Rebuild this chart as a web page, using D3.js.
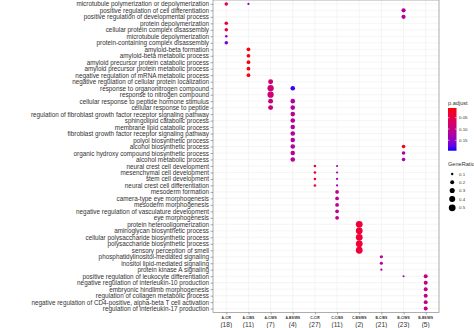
<!DOCTYPE html>
<html>
<head>
<meta charset="utf-8">
<script src="https://cdn.jsdelivr.net/npm/d3@7"></script>
<style>
  body { margin: 0; background: #fff; }
  svg { display: block; font-family: "Liberation Sans", Arial, sans-serif; }
</style>
</head>
<body>
<div id="chart"></div>
<script>
// Cluster codes on the x axis and the number of genes in each.
var clusters = ["A-C/R", "A-C/BS", "A-C/WS", "A-BS/WS", "C-C/R", "C-C/BS", "C-BS/WS", "B-C/BS", "B-C/WS", "B-BS/WS"];
var clusterSizes = [18, 11, 7, 4, 27, 11, 2, 21, 23, 5];

// GO terms on the y axis, top to bottom.
var terms = [
  "microtubule polymerization or depolymerization",
  "positive regulation of cell differentiation",
  "positive regulation of developmental process",
  "protein depolymerization",
  "cellular protein complex disassembly",
  "microtubule depolymerization",
  "protein-containing complex disassembly",
  "amyloid-beta formation",
  "amyloid-beta metabolic process",
  "amyloid precursor protein catabolic process",
  "amyloid precursor protein metabolic process",
  "negative regulation of mRNA metabolic process",
  "negative regulation of cellular protein localization",
  "response to organonitrogen compound",
  "response to nitrogen compound",
  "cellular response to peptide hormone stimulus",
  "cellular response to peptide",
  "regulation of fibroblast growth factor receptor signaling pathway",
  "sphingolipid catabolic process",
  "membrane lipid catabolic process",
  "fibroblast growth factor receptor signaling pathway",
  "polyol biosynthetic process",
  "alcohol biosynthetic process",
  "organic hydroxy compound biosynthetic process",
  "alcohol metabolic process",
  "neural crest cell development",
  "mesenchymal cell development",
  "stem cell development",
  "neural crest cell differentiation",
  "mesoderm formation",
  "camera-type eye morphogenesis",
  "mesoderm morphogenesis",
  "negative regulation of vasculature development",
  "eye morphogenesis",
  "protein heterooligomerization",
  "aminoglycan biosynthetic process",
  "cellular polysaccharide biosynthetic process",
  "polysaccharide biosynthetic process",
  "sensory perception of smell",
  "phosphatidylinositol-mediated signaling",
  "inositol lipid-mediated signaling",
  "protein kinase A signaling",
  "positive regulation of leukocyte differentiation",
  "negative regulation of interleukin-10 production",
  "embryonic hindlimb morphogenesis",
  "regulation of collagen metabolic process",
  "negative regulation of CD4-positive, alpha-beta T cell activation",
  "regulation of interleukin-17 production"
];

// Enriched terms: [cluster index, term number (1-based), GeneRatio, p.adjust]
var dots = [
  [0, 1, 0.167, 0.045], [0, 4, 0.167, 0.045], [0, 5, 0.167, 0.045], [0, 6, 0.111, 0.14], [0, 7, 0.167, 0.165],
  [1, 1, 0.091, 0.165], [1, 8, 0.182, 0.012], [1, 9, 0.182, 0.012], [1, 10, 0.182, 0.012], [1, 11, 0.182, 0.012], [1, 12, 0.182, 0.012],
  [2, 13, 0.286, 0.085], [2, 14, 0.429, 0.085], [2, 15, 0.429, 0.085], [2, 16, 0.286, 0.09], [2, 17, 0.286, 0.09],
  [3, 14, 0.25, 0.19], [3, 16, 0.25, 0.115], [3, 17, 0.25, 0.115], [3, 18, 0.25, 0.115], [3, 19, 0.25, 0.115], [3, 20, 0.25, 0.115],
  [3, 21, 0.25, 0.115], [3, 22, 0.25, 0.115], [3, 23, 0.25, 0.115], [3, 24, 0.25, 0.115], [3, 25, 0.25, 0.115],
  [4, 26, 0.111, 0.04], [4, 27, 0.111, 0.04], [4, 28, 0.111, 0.04], [4, 29, 0.111, 0.04],
  [5, 26, 0.091, 0.13], [5, 27, 0.091, 0.13], [5, 28, 0.091, 0.13], [5, 29, 0.091, 0.13],
  [5, 30, 0.182, 0.105], [5, 31, 0.182, 0.105], [5, 32, 0.182, 0.105], [5, 33, 0.182, 0.105], [5, 34, 0.182, 0.105],
  [6, 35, 0.5, 0.035], [6, 36, 0.5, 0.035], [6, 37, 0.5, 0.035], [6, 38, 0.5, 0.035], [6, 39, 0.5, 0.035],
  [7, 40, 0.143, 0.115], [7, 41, 0.143, 0.115], [7, 42, 0.095, 0.12],
  [8, 2, 0.217, 0.12], [8, 3, 0.217, 0.12], [8, 23, 0.174, 0.02], [8, 24, 0.174, 0.12], [8, 25, 0.174, 0.12], [8, 43, 0.087, 0.13],
  [9, 43, 0.2, 0.1], [9, 44, 0.2, 0.1], [9, 45, 0.2, 0.1], [9, 46, 0.2, 0.1], [9, 47, 0.2, 0.1], [9, 48, 0.2, 0.1]
];

// Legend breaks.
var padjBreaks = [0.05, 0.10, 0.15];
var ratioBreaks = [0.1, 0.2, 0.3, 0.4, 0.5];

var width = 474, height = 328;
var panel = {left: 213, right: 439, top: 0, bottom: 312.5};

var svg = d3.select("#chart").append("svg")
    .attr("width", width)
    .attr("height", height);

var x = d3.scalePoint()
    .domain(clusters)
    .range([panel.left, panel.right])
    .padding(0.6);

var y = d3.scalePoint()
    .domain(terms)
    .range([panel.top, panel.bottom])
    .padding(0.6);

var color = d3.scaleLinear()
    .domain([0.007, 0.196])
    .range(["red", "blue"])
    .interpolate(d3.interpolateLab);

var size = d3.scaleRadial()
    .domain([0.07, 0.5])
    .range([0.8, 3.4]);

// Panel background and grid.
svg.append("rect")
    .attr("x", panel.left).attr("y", panel.top)
    .attr("width", panel.right - panel.left)
    .attr("height", panel.bottom - panel.top)
    .attr("fill", "#fff");

var grid = svg.append("g").attr("stroke", "#ebebeb").attr("stroke-width", 0.5);
grid.selectAll("line.h").data(terms).enter().append("line")
    .attr("x1", panel.left).attr("x2", panel.right)
    .attr("y1", function(d) { return y(d); })
    .attr("y2", function(d) { return y(d); });
grid.selectAll("line.v").data(clusters).enter().append("line")
    .attr("x1", function(d) { return x(d); })
    .attr("x2", function(d) { return x(d); })
    .attr("y1", panel.top).attr("y2", panel.bottom);

svg.append("rect")
    .attr("x", panel.left).attr("y", panel.top)
    .attr("width", panel.right - panel.left)
    .attr("height", panel.bottom - panel.top)
    .attr("fill", "none")
    .attr("stroke", "#9a9a9a")
    .attr("stroke-width", 0.8);

// Y axis.
var yAxis = svg.append("g")
    .attr("transform", "translate(" + panel.left + ",0)")
    .call(d3.axisLeft(y).tickSize(2.5).tickPadding(1.5));
yAxis.select(".domain").remove();
yAxis.selectAll(".tick line").attr("stroke", "#555").attr("stroke-width", 0.5);
yAxis.selectAll(".tick text")
    .attr("fill", "#333")
    .style("font-size", "6.35px")
    .style("font-family", "'Liberation Sans', Arial, sans-serif");

// X axis: cluster code plus gene count.
var xAxis = svg.append("g")
    .attr("transform", "translate(0," + panel.bottom + ")")
    .call(d3.axisBottom(x).tickSize(2).tickFormat(""));
xAxis.select(".domain").remove();
xAxis.selectAll(".tick line").attr("stroke", "#555").attr("stroke-width", 0.5);

svg.append("g").selectAll("text.code").data(clusters).enter().append("text")
    .attr("x", function(d) { return x(d); })
    .attr("y", 318.5)
    .attr("text-anchor", "middle")
    .attr("fill", "#333")
    .style("font-size", "3.4px")
    .style("font-weight", "bold")
    .text(function(d) { return d; });

svg.append("g").selectAll("text.count").data(clusters).enter().append("text")
    .attr("x", function(d) { return x(d); })
    .attr("y", 326.5)
    .attr("text-anchor", "middle")
    .attr("fill", "#333")
    .style("font-size", "6.6px")
    .text(function(d, i) { return "(" + clusterSizes[i] + ")"; });

// Dots.
svg.append("g").selectAll("circle").data(dots).enter().append("circle")
    .attr("cx", function(d) { return x(clusters[d[0]]); })
    .attr("cy", function(d) { return y(terms[d[1] - 1]); })
    .attr("r", function(d) { return size(d[2]); })
    .attr("fill", function(d) { return color(d[3]); });

// Colour legend.
var legX = 448;
var bar = {top: 108, bottom: 150.7, width: 8.5};
var barY = d3.scaleLinear().domain(color.domain()).range([bar.top, bar.bottom]);

svg.append("text")
    .attr("x", legX).attr("y", 104.5)
    .attr("fill", "#333")
    .style("font-size", "5.6px")
    .text("p.adjust");

var grad = svg.append("defs").append("linearGradient")
    .attr("id", "padj").attr("x1", 0).attr("x2", 0).attr("y1", 0).attr("y2", 1);
d3.range(0, 1.01, 0.1).forEach(function(t) {
  grad.append("stop")
      .attr("offset", t)
      .attr("stop-color", color(color.domain()[0] + t * (color.domain()[1] - color.domain()[0])));
});
svg.append("rect")
    .attr("x", legX).attr("y", bar.top)
    .attr("width", bar.width).attr("height", bar.bottom - bar.top)
    .attr("fill", "url(#padj)");

var padjG = svg.append("g");
padjBreaks.forEach(function(b) {
  padjG.append("line")
      .attr("x1", legX).attr("x2", legX + 1.6)
      .attr("y1", barY(b)).attr("y2", barY(b))
      .attr("stroke", "#fff").attr("stroke-width", 0.5);
  padjG.append("line")
      .attr("x1", legX + bar.width - 1.6).attr("x2", legX + bar.width)
      .attr("y1", barY(b)).attr("y2", barY(b))
      .attr("stroke", "#fff").attr("stroke-width", 0.5);
  padjG.append("text")
      .attr("x", legX + bar.width + 2.5).attr("y", barY(b))
      .attr("dy", "0.35em")
      .attr("fill", "#333")
      .style("font-size", "4.4px")
      .text(d3.format(".2f")(b));
});

// Size legend.
svg.append("text")
    .attr("x", legX).attr("y", 166)
    .attr("fill", "#333")
    .style("font-size", "5.6px")
    .text("GeneRatio");

var keyY = [174, 182.3, 190.5, 199, 207.8];
var sizeG = svg.append("g");
ratioBreaks.forEach(function(b, i) {
  sizeG.append("circle")
      .attr("cx", legX + 4.2).attr("cy", keyY[i])
      .attr("r", size(b))
      .attr("fill", "#000");
  sizeG.append("text")
      .attr("x", legX + bar.width + 2.5).attr("y", keyY[i])
      .attr("dy", "0.35em")
      .attr("fill", "#333")
      .style("font-size", "4.4px")
      .text(b);
});
</script>
</body>
</html>
